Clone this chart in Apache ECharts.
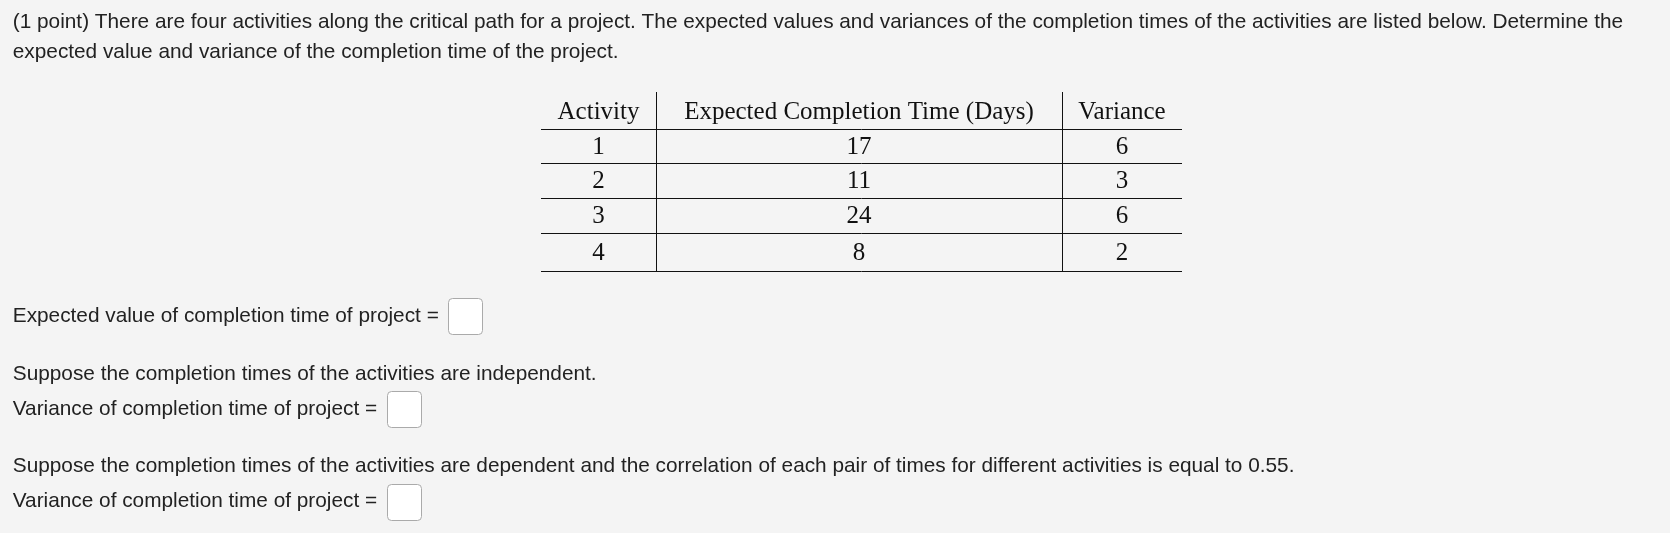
<!DOCTYPE html><html><head><meta charset="utf-8">
<script src="https://cdn.jsdelivr.net/npm/echarts@6/dist/echarts.min.js"></script>
<style>html,body{margin:0;background:#f4f4f4}#c{width:1670px;height:533px}</style></head><body><div id="c"></div>
<script>
const headers = ["Activity", "Expected Completion Time (Days)", "Variance"];
const activities = ["1", "2", "3", "4"];
const expectedTimes = ["17", "11", "24", "8"];
const variances = ["6", "3", "6", "2"];
const prose = [
  ["(1 point) There are four activities along the critical path for a project. The expected values and variances of the completion times of the activities are listed below. Determine the", 21],
  ["expected value and variance of the completion time of the project.", 49],
  ["Expected value of completion time of project =", 297],
  ["Suppose the completion times of the activities are independent.", 351],
  ["Variance of completion time of project =", 384],
  ["Suppose the completion times of the activities are dependent and the correlation of each pair of times for different activities is equal to 0.55.", 438],
  ["Variance of completion time of project =", 471]
];
const boxes = [[421, 280], [363, 367], [363, 454]];

const S = 1670 / 1568;
const sans = '"Liberation Sans", Arial, sans-serif';
const serif = '"Liberation Serif", "DejaVu Serif", serif';
const g = [];
prose.forEach(([t, y]) => g.push({type:'text', x:12*S, y:y*S, style:{text:t, font:'20.8px '+sans, fill:'#222', textVerticalAlign:'middle'}}));
boxes.forEach(([x, y]) => g.push({type:'rect', shape:{x:Math.round(x*S)+0.5, y:Math.round(y*S)+0.5, width:34, height:36, r:4}, style:{fill:'#fff', stroke:'#aaa', lineWidth:1}}));
const colX = [508, 616, 997, 1110].map(v => Math.round(v*S));
const rowY = [86, 121, 153, 186, 219, 254].map(v => Math.round(v*S));
const cols = [activities, expectedTimes, variances];
const line = (x1,y1,x2,y2) => g.push({type:'line', shape:{x1,y1,x2,y2}, style:{stroke:'#111', lineWidth:1}});
for (let i = 1; i < rowY.length; i++) line(colX[0], rowY[i]+0.5, colX[3], rowY[i]+0.5);
line(colX[1]+0.5, rowY[0], colX[1]+0.5, rowY[5]);
line(colX[2]+0.5, rowY[0], colX[2]+0.5, rowY[5]);
const tf = '25px '+serif;
headers.forEach((h, c) => g.push({type:'text', x:(colX[c]+colX[c+1])/2, y:(rowY[0]+rowY[1])/2+2, style:{text:h, font:tf, fill:'#111', textAlign:'center', textVerticalAlign:'middle'}}));
cols.forEach((col, c) => col.forEach((v, r) => g.push({type:'text', x:(colX[c]+colX[c+1])/2, y:(rowY[r+1]+rowY[r+2])/2+1, style:{text:v, font:tf, fill:'#111', textAlign:'center', textVerticalAlign:'middle'}})));
const chart = echarts.init(document.getElementById('c'));
chart.setOption({backgroundColor:'#f4f4f4', graphic:g});
</script></body></html>
